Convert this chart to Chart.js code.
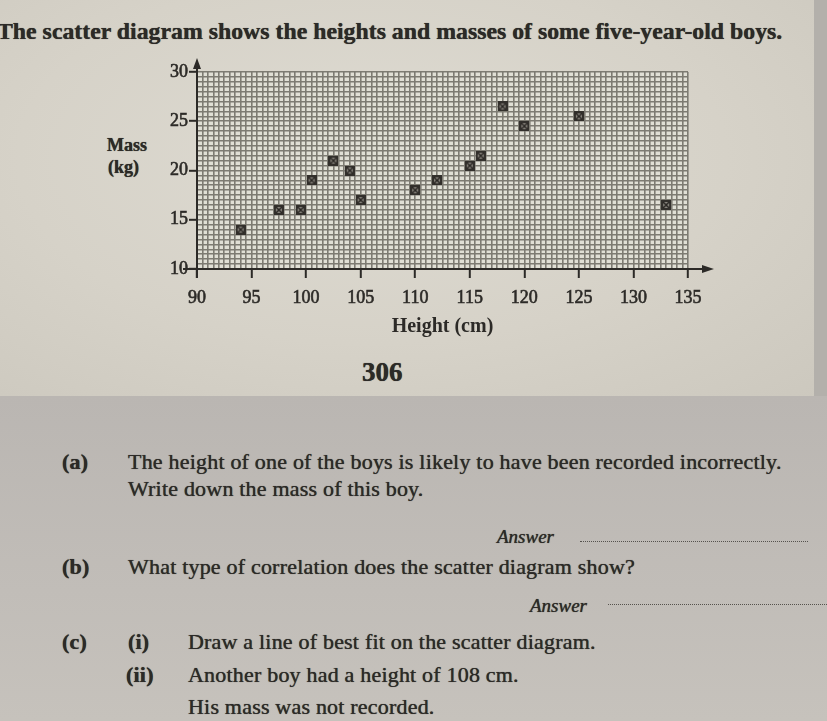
<!DOCTYPE html>
<html>
<head>
<meta charset="utf-8">
<script src="https://cdn.jsdelivr.net/npm/chart.js@4.4.0/dist/chart.umd.min.js"></script>
<style>
  body {
    margin: 0;
    width: 827px;
    height: 721px;
    overflow: hidden;
    position: relative;
    font-family: "Liberation Serif", "DejaVu Serif", serif;
    color: #2c2a27;
    background: #d4d0c6;
  }
  .paper-top {
    position: absolute; left: 0; top: 0; width: 827px; height: 396px;
    background: radial-gradient(ellipse at 45% 40%, #dedbd2 0%, #d6d2c8 55%, #ccc8be 100%);
  }
  .paper-bottom {
    position: absolute; left: 0; top: 396px; width: 827px; height: 325px;
    background: linear-gradient(180deg, #bab6b2 0%, #c1bdb8 60%, #c6c2bc 100%);
  }
  .edge {
    position: absolute; left: 814px; top: 0; width: 13px; height: 396px;
    background: #b3b0ab;
  }
  .t {
    position: absolute;
    white-space: nowrap;
    line-height: 1;
    text-shadow: 0 0 0.7px #2c2a27;
  }
  .b { font-weight: bold; }
  .q { font-size: 22px; letter-spacing: 0.2px; }
  .dots {
    position: absolute; height: 0;
    border-top: 1px dotted #55524d;
  }
  #wrap { position: absolute; left: 0; top: 0; width: 827px; height: 396px; }
</style>
</head>
<body>
<div class="paper-top"></div>
<div class="edge"></div>
<div class="paper-bottom"></div>

<div class="t b" style="left:-3px; top:20px; font-size:23.8px;">The scatter diagram shows the heights and masses of some five-year-old boys.</div>
<div class="t b" style="left:107px; top:136px; font-size:18px;">Mass</div>
<div class="t b" style="left:108px; top:158px; font-size:18px;">(kg)</div>
<div class="t b" style="left:362px; top:359px; font-size:27px;">306</div>

<div class="t b q" style="left:62px; top:451px;">(a)</div>
<div class="t q" style="left:128px; top:451px;">The height of one of the boys is likely to have been recorded incorrectly.</div>
<div class="t q" style="left:128px; top:478px;">Write down the mass of this boy.</div>
<div class="t" style="left:497px; top:527px; font-size:19px; font-style:italic;">Answer</div>
<div class="dots" style="left:580px; top:541px; width:228px;"></div>

<div class="t b q" style="left:62px; top:556px;">(b)</div>
<div class="t q" style="left:128px; top:556px;">What type of correlation does the scatter diagram show?</div>
<div class="t" style="left:530px; top:596px; font-size:19px; font-style:italic;">Answer</div>
<div class="dots" style="left:608px; top:604px; width:219px;"></div>

<div class="t b q" style="left:62px; top:631px;">(c)</div>
<div class="t b q" style="left:128px; top:631px;">(i)</div>
<div class="t q" style="left:188px; top:631px;">Draw a line of best fit on the scatter diagram.</div>
<div class="t b q" style="left:126px; top:664px;">(ii)</div>
<div class="t q" style="left:188px; top:664px;">Another boy had a height of 108 cm.</div>
<div class="t q" style="left:188px; top:696px;">His mass was not recorded.</div>

<div id="wrap"><canvas id="scatter"></canvas></div>

<script>
// heights (cm) and masses (kg)
const heights = [94, 97.5, 99.5, 100.5, 102.5, 104, 105, 110, 112, 115, 116, 118, 120, 125, 133];
const masses = [14, 16, 16, 19, 21, 20, 17, 18, 19, 20.5, 21.5, 26.5, 24.5, 25.5, 16.5];

const xMin = 90, xMax = 135;
const yMin = 10, yMax = 30;
const labelEvery = 5; // printed tick labels 90, 95 ... and 10, 15 ...
const gridStep = 0.5;

const ink = "#2c2a27";
const gridInk = "#7d7b72";

// little boxed cross used as the point marker
function makeMark() {
  const c = document.createElement("canvas");
  c.width = 10;
  c.height = 10;
  const g = c.getContext("2d");
  g.fillStyle = "#33302c";
  g.fillRect(0, 0, 10, 10);
  g.fillStyle = "#8a867e";
  g.fillRect(2, 2, 6, 6);
  g.strokeStyle = "#2a2724";
  g.lineWidth = 1.5;
  g.beginPath();
  g.moveTo(2, 2); g.lineTo(8, 8);
  g.moveTo(8, 2); g.lineTo(2, 8);
  g.stroke();
  return c;
}

const points = heights.map((h, i) => ({ x: h, y: masses[i] }));

function onLabel(v) {
  return Math.abs(v % labelEvery) < 1e-6;
}

// paper background inside plot and the arrowed axes
const paperPlugin = {
  id: "paper",
  beforeDraw(chart) {
    const { ctx, chartArea: a } = chart;
    ctx.save();
    ctx.fillStyle = "#e0dfd5";
    ctx.fillRect(a.left, a.top, a.right - a.left, a.bottom - a.top);
    ctx.restore();
  },
  afterDraw(chart) {
    const { ctx, chartArea: a } = chart;
    ctx.save();
    ctx.strokeStyle = ink;
    ctx.fillStyle = ink;
    ctx.lineWidth = 2;
    ctx.beginPath();
    ctx.moveTo(a.left - 14, a.bottom);
    ctx.lineTo(a.right + 18, a.bottom);
    ctx.moveTo(a.left, a.bottom + 9);
    ctx.lineTo(a.left, a.top - 6);
    ctx.stroke();
    // arrow heads
    ctx.beginPath();
    ctx.moveTo(a.right + 26, a.bottom);
    ctx.lineTo(a.right + 14, a.bottom - 4);
    ctx.lineTo(a.right + 14, a.bottom + 4);
    ctx.closePath();
    ctx.fill();
    ctx.beginPath();
    ctx.moveTo(a.left, a.top - 14);
    ctx.lineTo(a.left - 4, a.top - 3);
    ctx.lineTo(a.left + 4, a.top - 3);
    ctx.closePath();
    ctx.fill();
    ctx.restore();
  },
};

const tickFont = { family: "Liberation Serif", size: 18 };

new Chart(document.getElementById("scatter"), {
  type: "scatter",
  data: {
    datasets: [
      {
        label: "boys",
        data: points,
        pointStyle: makeMark(),
        pointRadius: 5,
      },
    ],
  },
  options: {
    responsive: true,
    maintainAspectRatio: false,
    animation: false,
    layout: { padding: { left: 157, right: 139, top: 72, bottom: 57 } },
    plugins: {
      legend: { display: false },
      tooltip: { enabled: false },
    },
    scales: {
      x: {
        type: "linear",
        min: xMin,
        max: xMax,
        afterFit: (scale) => {
          scale.height = 70;
        },
        border: { display: false },
        grid: {
          color: gridInk,
          lineWidth: 1.6,
          tickLength: 9,
          tickWidth: 2,
          tickColor: (ctx) => (ctx.tick && onLabel(ctx.tick.value) ? ink : "rgba(0,0,0,0)"),
        },
        ticks: {
          stepSize: gridStep,
          autoSkip: false,
          maxRotation: 0,
          minRotation: 0,
          padding: 9,
          color: ink,
          font: tickFont,
          textStrokeColor: ink,
          textStrokeWidth: 0.6,
          callback: (v) => (onLabel(v) ? String(v) : ""),
        },
        title: {
          display: true,
          text: "Height (cm)",
          color: ink,
          font: { family: "Liberation Serif", size: 20, weight: "bold" },
          padding: { top: 2, bottom: 0 },
        },
      },
      y: {
        type: "linear",
        min: yMin,
        max: yMax,
        afterFit: (scale) => {
          scale.width = 40;
        },
        border: { display: false },
        grid: {
          color: gridInk,
          lineWidth: 1.6,
          tickLength: 8,
          tickWidth: 2,
          tickColor: (ctx) => (ctx.tick && onLabel(ctx.tick.value) ? ink : "rgba(0,0,0,0)"),
        },
        ticks: {
          stepSize: gridStep,
          autoSkip: false,
          padding: 1,
          color: ink,
          font: tickFont,
          textStrokeColor: ink,
          textStrokeWidth: 0.6,
          callback: (v) => (onLabel(v) ? String(v) : ""),
        },
      },
    },
  },
  plugins: [paperPlugin],
});
</script>
</body>
</html>
